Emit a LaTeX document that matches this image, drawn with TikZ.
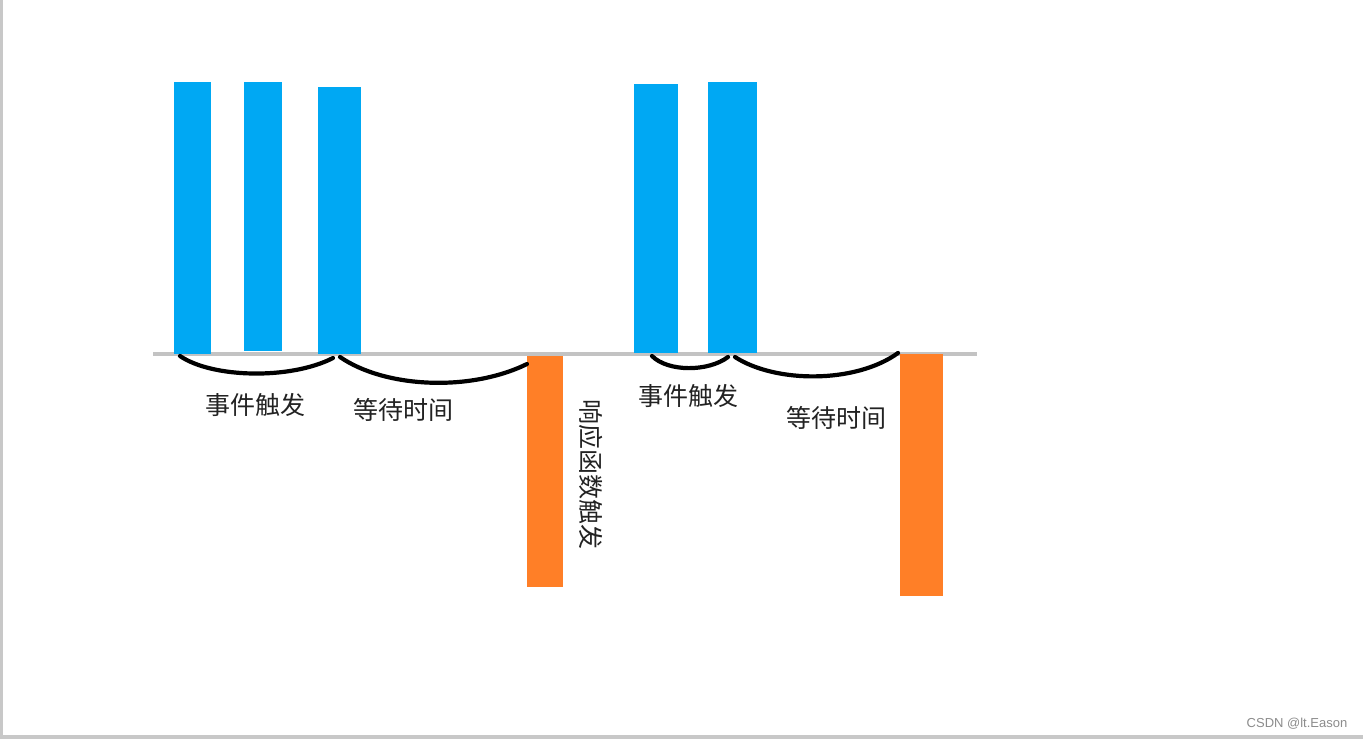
\documentclass[tikz,border=0pt]{standalone}
\usepackage{fontspec}
\newfontfamily\cjk{Noto Sans CJK SC}
\definecolor{barblue}{HTML}{00A8F3}
\definecolor{barorange}{HTML}{FF7F27}
\definecolor{axisgray}{HTML}{C3C3C3}
\definecolor{framegray}{HTML}{C8C8C8}
\definecolor{txt}{HTML}{222222}
\begin{document}
\begin{tikzpicture}[x=1pt,y=-1pt,
  bluebar/.style={fill=barblue,draw=none},
  orangebar/.style={fill=barorange,draw=none},
  brace/.style={line width=4.2pt,line cap=round,black},
  lbl/.style={font=\cjk\fontsize{25}{29}\selectfont,text=txt,inner sep=0pt}]
\useasboundingbox (0,0) rectangle (1363,739);
\fill[white] (0,0) rectangle (1363,739);
% frame strips
\fill[framegray] (0,0) rectangle (3,739);
\fill[framegray] (0,735) rectangle (1363,739);
% axis
\draw[axisgray,line width=4pt] (153,354) -- (977,354);
% blue bars
\fill[bluebar] (174,82) rectangle (211,354);
\fill[bluebar] (244,82) rectangle (282,351);
\fill[bluebar] (318,87) rectangle (361,354);
\fill[bluebar] (634,84) rectangle (678,353);
\fill[bluebar] (708,82) rectangle (757,353);
% orange bars
\fill[orangebar] (527,356) rectangle (563,587);
\fill[orangebar] (900,354) rectangle (943,596);
% braces
\draw[brace] (180,356) .. controls (212,378) and (290,380) .. (333,358);
\draw[brace] (340,357) .. controls (385,388) and (470,392) .. (527,364);
\draw[brace] (652,356) .. controls (668,372) and (708,372) .. (728,357);
\draw[brace] (735,357) .. controls (775,383) and (855,384) .. (898,353);
% labels
\node[lbl] (t1) at (255,405) {事件触发};
\node[lbl] (t2) at (403,410) {等待时间};
\node[lbl] (t3) at (688,396) {事件触发};
\node[lbl] (t4) at (836,418) {等待时间};
\node[lbl,rotate=-90] (t5) at (591,474) {响应函数触发};
\node[font=\fontspec{Liberation Sans}\fontsize{13}{15}\selectfont,text=gray!90,inner sep=0pt] (wm) at (1297,724) {CSDN @lt.Eason};
\end{tikzpicture}
\end{document}
